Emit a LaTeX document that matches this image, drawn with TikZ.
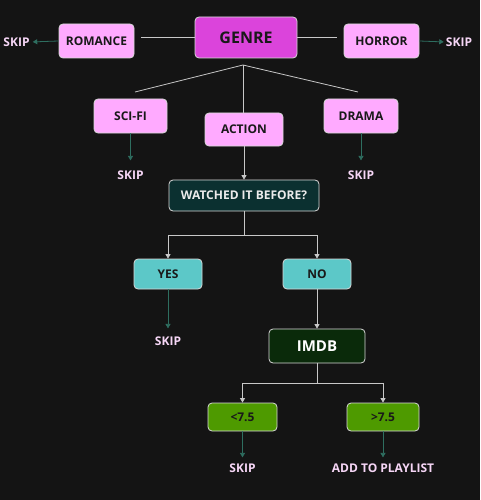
\documentclass[tikz,border=0pt]{standalone}
\usepackage{fontspec}
\setmainfont{Open Sans}
\usetikzlibrary{arrows.meta}
\definecolor{bg}{HTML}{141414}
\definecolor{pinkfill}{HTML}{FFAAFF}
\definecolor{genrefill}{HTML}{DB44DB}
\definecolor{boxline}{HTML}{D8D8D8}
\definecolor{linegray}{HTML}{C8C8C8}
\definecolor{skiptext}{HTML}{F6D6F6}
\definecolor{skiparrow}{HTML}{2E6E60}
\definecolor{watchfill}{HTML}{0B3030}
\definecolor{cyanfill}{HTML}{5CC8C8}
\definecolor{imdbfill}{HTML}{0A2A0A}
\definecolor{greenfill}{HTML}{4E9A00}
\tikzset{
  box/.style={draw=boxline, line width=0.8pt, rounded corners=4pt, inner sep=0pt, anchor=center, align=center},
  pinkbox/.style={box, fill=pinkfill, text=black!90, minimum width=75pt, minimum height=34pt},
  cyanbox/.style={box, fill=cyanfill, text=black!90, minimum width=68pt, minimum height=30pt},
  greenbox/.style={box, fill=greenfill, text=black!90, minimum height=28pt},
  skiplabel/.style={text=skiptext, inner sep=0pt},
  conn/.style={draw=linegray, line width=0.8pt},
  arr/.style={conn, -{Triangle[length=4.5pt,width=5pt]}},
  skiparr/.style={draw=skiparrow, line width=0.8pt, -{Triangle[length=4.5pt,width=5pt]}},
}
\begin{document}
\begin{tikzpicture}[x=1pt,y=-1pt, font=\bfseries\fontsize{12}{14}\selectfont]
\fill[bg] (0,0) rectangle (480,500);
\useasboundingbox (0,0) rectangle (480,500);

% top row
\node[box, fill=genrefill, text=black!90, minimum width=102pt, minimum height=41pt, font=\bfseries\fontsize{16}{18}\selectfont] (genre) at (246,37.5) {GENRE};
\node[pinkbox] (romance) at (96.5,41) {ROMANCE};
\node[pinkbox] (horror) at (381.5,41) {HORROR};
\node[skiplabel] (skipl) at (16.5,42) {SKIP};
\node[skiplabel] (skipr) at (459,42) {SKIP};
\draw[conn, shorten >=7pt] (genre.west) -- (genre.west -| romance.east);
\draw[conn, shorten >=7pt] (genre.east) -- (genre.east -| horror.west);
\draw[skiparr, shorten >=3pt] (romance.west) -- (skipl.east);
\draw[skiparr, shorten >=2pt] (horror.east) -- (skipr.west);

% second row
\node[pinkbox, minimum width=73pt] (scifi) at (130.5,116) {SCI-FI};
\node[pinkbox, minimum width=78pt, minimum height=33pt] (action) at (244,129.5) {ACTION};
\node[pinkbox, minimum width=74pt] (drama) at (361,116) {DRAMA};
\coordinate (fan) at (243,65);
\coordinate (fanl) at (135,92);
\coordinate (fanr) at (358,92);
\draw[conn] (fan) -- (fanl);
\draw[conn] (fan) -- (fanr);
\draw[conn] (fan) -- (fan |- action.north);

\node[skiplabel] (skip1) at (130.5,175) {SKIP};
\node[skiplabel] (skip2) at (361,175) {SKIP};
\draw[skiparr] (scifi.south) -- ++(0,27);
\draw[skiparr] (drama.south) -- ++(0,27);

% watched
\node[box, fill=watchfill, text=white!92!black, minimum width=150pt, minimum height=31pt] (watched) at (244,195.5) {WATCHED IT BEFORE?};
\draw[arr] (action.south) -- (watched.north);

\node[cyanbox] (yes) at (168,274) {YES};
\node[cyanbox] (no) at (317,274) {NO};
\coordinate (wsplit) at (244,235);
\draw[conn] (watched.south) -- (wsplit);
\draw[arr] (wsplit) -| (yes.north);
\draw[arr] (wsplit) -| (no.north);

\node[skiplabel] (skip3) at (168,341) {SKIP};
\draw[skiparr] (yes.south) -- ++(0,39);

% imdb
\node[box, fill=imdbfill, text=white, minimum width=96pt, minimum height=34pt, font=\bfseries\fontsize{15}{17}\selectfont] (imdb) at (317,346) {IMDB};
\draw[arr] (no.south) -- (imdb.north);

\node[greenbox, minimum width=69pt] (low) at (242.5,417) {<7.5};
\node[greenbox, minimum width=72pt] (high) at (383,417) {>7.5};
\coordinate (isplit) at (317,383);
\draw[conn] (imdb.south) -- (isplit);
\draw[arr] (isplit) -| (low.north);
\draw[arr] (isplit) -| (high.north);

\node[skiplabel] (skip4) at (242.5,468) {SKIP};
\node[skiplabel] (add) at (383,468) {ADD TO PLAYLIST};
\draw[skiparr] (low.south) -- ++(0,26);
\draw[skiparr] (high.south) -- ++(0,26);
\end{tikzpicture}
\end{document}
